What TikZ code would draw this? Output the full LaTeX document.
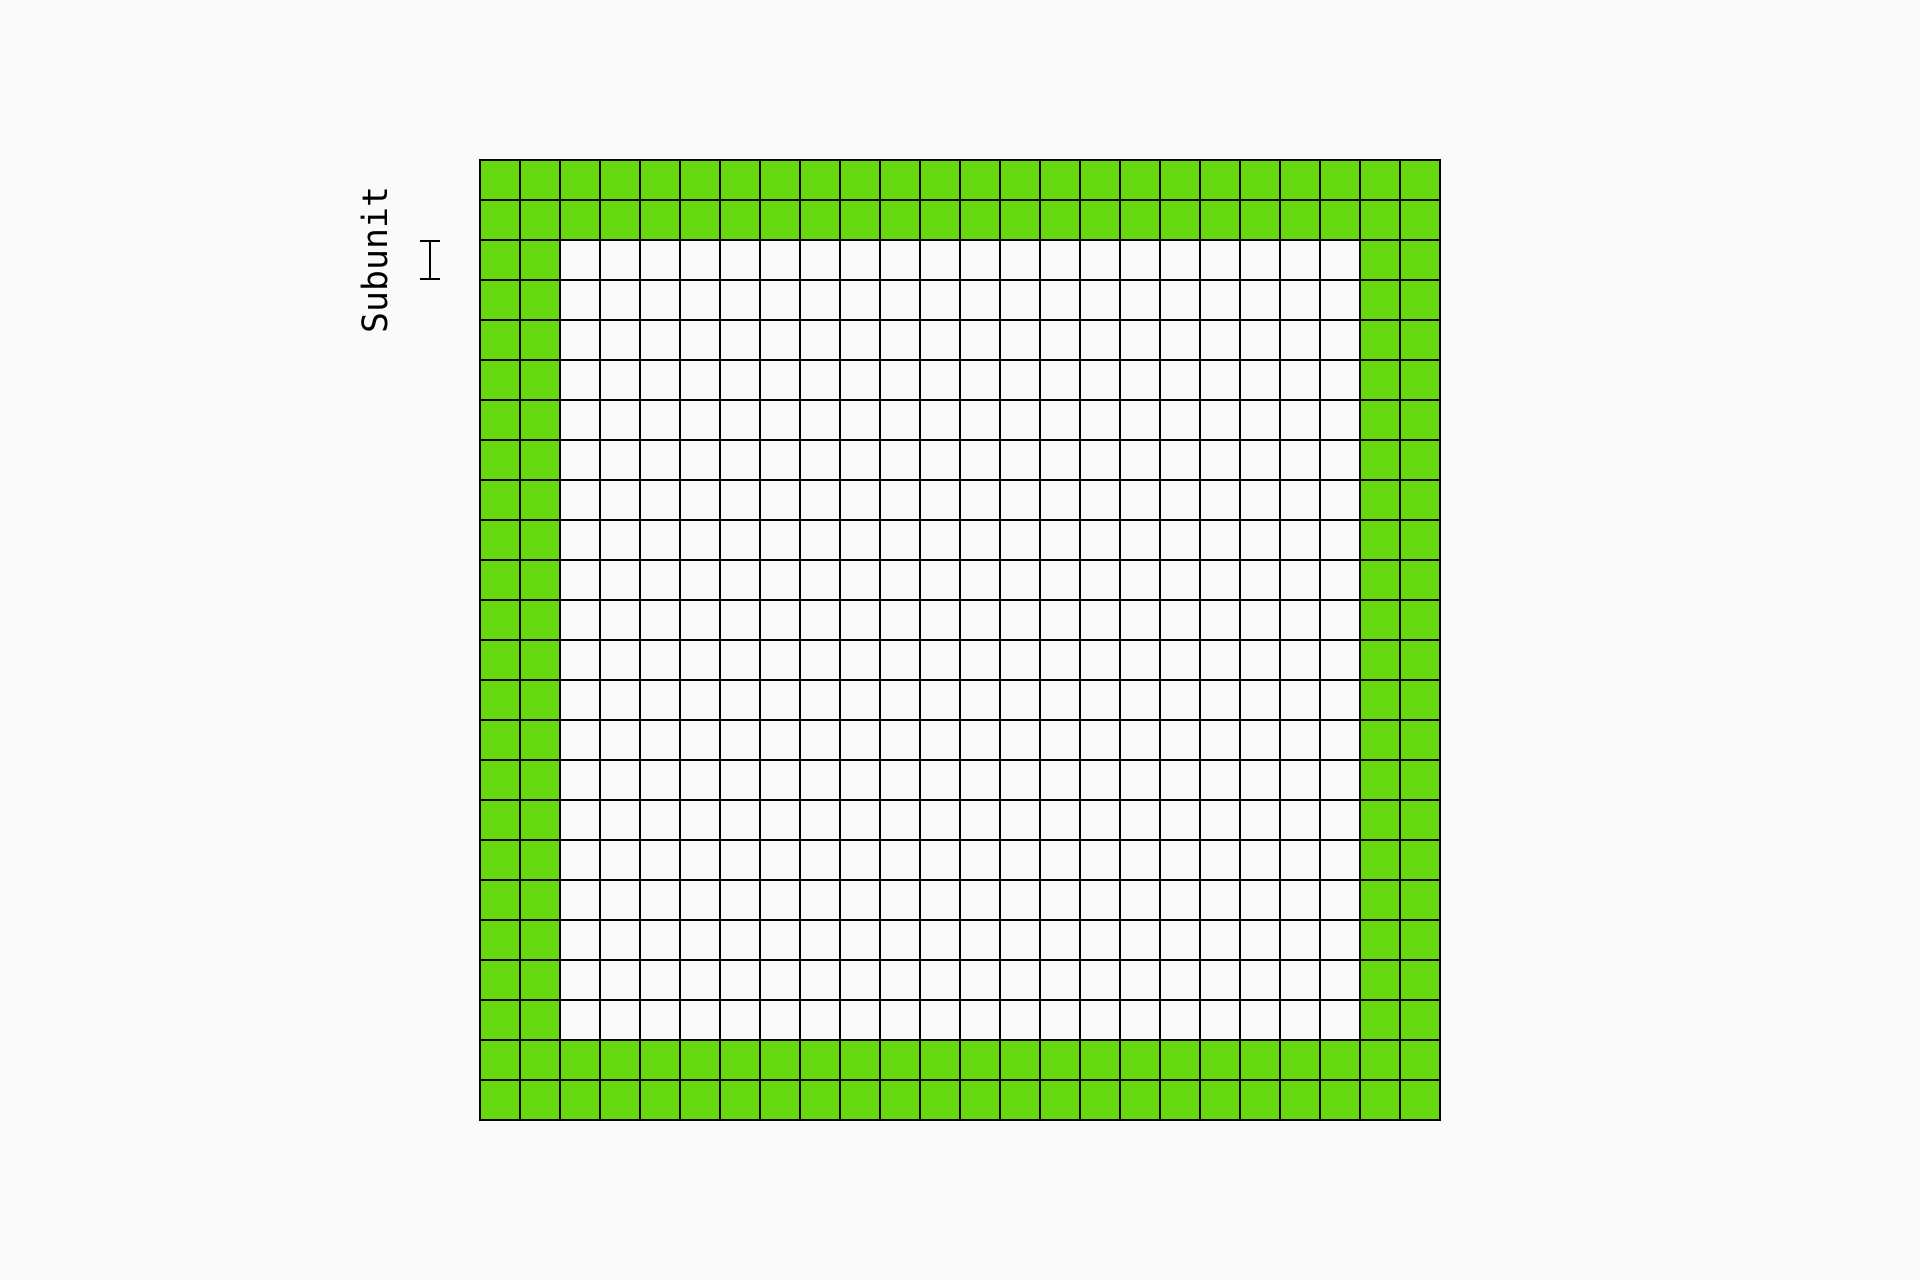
\documentclass[tikz,border=0pt]{standalone}
\usepackage{fontspec}
\setmonofont{DejaVu Sans Mono}
\usetikzlibrary{arrows.meta}
\definecolor{paper}{HTML}{FAFAFA}
\definecolor{ringgreen}{HTML}{66D90E}

\begin{document}
\begin{tikzpicture}[x=4mm, y=4mm, line width=0.75pt,
  scalebar/.style={line width=0.6pt, {Bar[width=2mm]}-{Bar[width=2mm]}},
  subunitlabel/.style={rotate=90, anchor=base, inner sep=0pt,
    font=\ttfamily\fontsize{9.9}{12}\selectfont}]

\fill[paper] (0,0) rectangle (48,32);
\useasboundingbox (0,0) rectangle (48,32);

% green ring, two cells wide
\fill[ringgreen] (12,4) rectangle (36,28);
\fill[paper] (14,6) rectangle (34,26);

% the 24 x 24 grid
\draw[step=1] (12,4) grid (36,28);
\draw (12,4) rectangle (36,28);

% scale bar for one subunit
\coordinate (bartop) at (10.75,26);
\coordinate (barbot) at (10.75,25);
\draw[scalebar] (bartop) -- (barbot);
\node[subunitlabel] (label) at (9.675,25.5) {Subunit};

\end{tikzpicture}
\end{document}
